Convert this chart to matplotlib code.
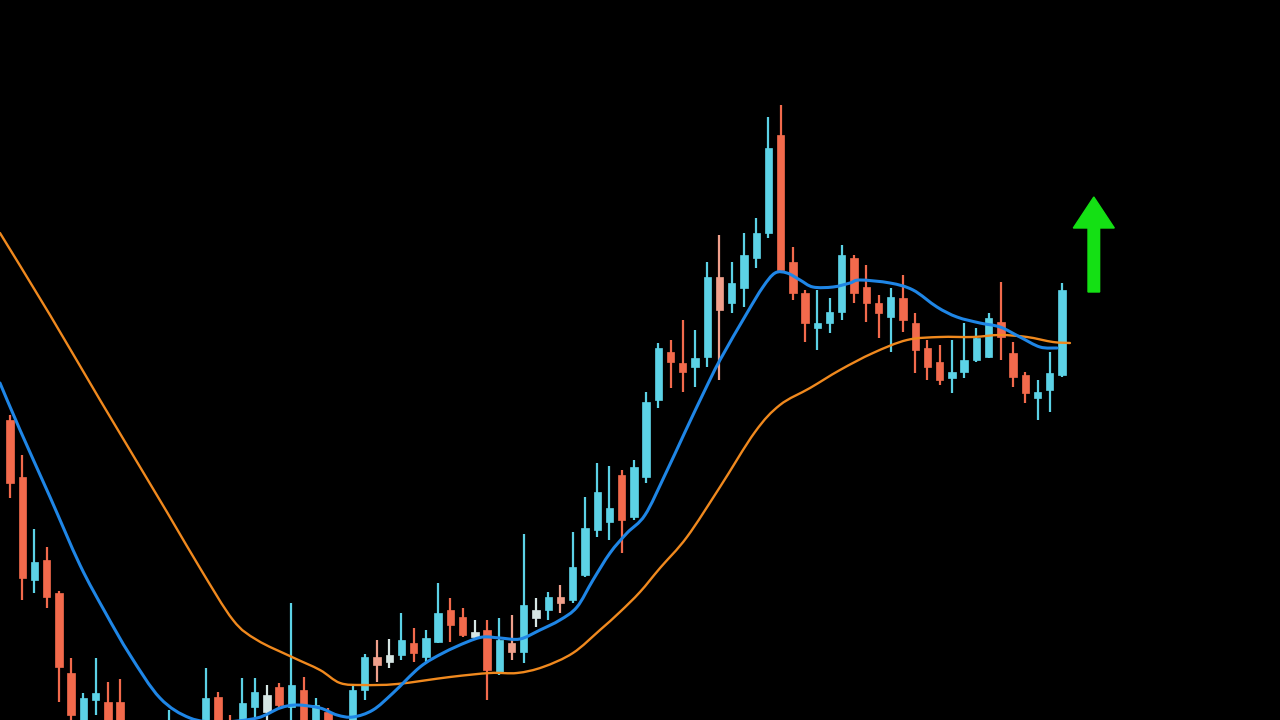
import matplotlib
matplotlib.use("Agg")
import matplotlib.pyplot as plt
from matplotlib.patches import FancyArrow, PathPatch
from matplotlib.path import Path
import numpy as np

# ---- candle data (price units, one entry per session) ----
opens = [300, 243, 140, 160, 127, 47, -10, 20, 18, 18,
         -10, -20, -40, -30, -15, -35, -5, 23, 0, -5,
         13, 8, 33, 13, 30, 0, 8, -25, 0, 30,
         63, 58, 65, 77, 63, 78, 110, 103, 83, 90,
         48, 77, 68, 102, 110, 123, 120, 145, 190, 198,
         245, 203, 243, 320, 368, 357, 353, 363, 443, 417,
         432, 462, 487, 585, 458, 427, 392, 397, 408, 462,
         433, 417, 403, 422, 397, 372, 358, 342, 348, 360,
         363, 398, 367, 345, 322, 330, 345]
highs = [305, 265, 191, 173, 129, 62, 27, 62, 38, 41,
         -5, -15, -10, 10, -5, -2, 52, 28, 5, 42,
         42, 35, 37, 117, 43, 22, 12, -5, 35, 66,
         80, 81, 107, 92, 90, 137, 122, 112, 100, 100,
         102, 105, 186, 122, 128, 135, 188, 223, 257, 254,
         250, 260, 328, 377, 380, 400, 390, 458, 485, 458,
         487, 502, 603, 615, 473, 430, 430, 422, 475, 465,
         455, 425, 432, 445, 407, 380, 375, 380, 397, 392,
         407, 438, 378, 348, 340, 368, 437]
lows = [222, 120, 127, 112, 18, -15, -20, 5, -25, -20,
        -40, -50, -50, -40, -45, -45, -15, -15, -25, -15,
        3, 0, 12, 0, -15, -10, -20, -35, -10, 20,
        38, 52, 60, 58, 58, 77, 78, 83, 80, 20,
        45, 60, 57, 93, 100, 107, 117, 143, 183, 180,
        167, 200, 237, 312, 332, 328, 333, 353, 340, 407,
        413, 452, 482, 448, 420, 378, 370, 387, 400, 417,
        398, 382, 368, 388, 347, 340, 335, 327, 342, 358,
        362, 360, 333, 317, 300, 308, 343]
closes = [237, 142, 158, 123, 53, 5, 22, 27, -10, -5,
          -30, -40, -25, -12, -35, -10, 22, -5, -15, 17,
          28, 25, 15, 35, -5, 15, -10, -10, 30, 63,
          55, 65, 80, 67, 82, 107, 95, 85, 88, 50,
          80, 68, 115, 110, 123, 117, 153, 192, 228, 212,
          200, 253, 318, 372, 358, 348, 362, 443, 410, 437,
          465, 487, 572, 450, 427, 397, 397, 408, 465, 427,
          417, 407, 423, 400, 370, 353, 340, 348, 360, 382,
          402, 383, 343, 327, 328, 347, 430]

# ---- moving-average lines (session position, price) ----
ma_fast_pos = [-0.82, 0.82, 3.27, 5.72, 7.77, 9.81, 12.26, 14.71, 17.17,
               20.19, 22.07, 23.46, 25.34, 26.73, 28.04, 29.67,
               31.31, 33.52, 35.40, 37.36, 38.67, 40.06, 41.69, 43.33, 44.96, 46.35,
               47.66, 49.05, 50.44, 51.91, 53.54, 55.18, 56.81, 58.04, 60.25, 61.55,
               62.54, 63.52, 64.58, 65.64, 67.28, 68.67, 69.48, 71.94, 73.82, 75.78,
               77.41, 79.29, 80.93, 82.56, 84.20, 85.59]
ma_fast_val = [337, 290, 223, 155, 108, 65, 22, 2, -2,
               2, 12, 15, 12, 5, 3, 10,
               27, 53, 67, 78, 83, 82, 81, 90, 100, 113,
               140, 167, 187, 205, 245, 288, 330, 360, 407, 433,
               447, 447, 440, 433, 433, 437, 440, 437, 430, 413,
               403, 397, 393, 383, 373, 372]
ma_slow_pos = [-0.82, 3.27, 7.36, 12.83, 15.53, 18.23, 20.19, 23.05, 25.34,
               26.98, 28.86, 31.64, 35.97, 39.24, 41.45, 43.57, 46.02, 48.23, 49.86,
               51.50, 53.14, 55.34, 58.04, 60.90, 62.94, 65.40, 67.85, 70.55, 73.33,
               76.02, 78.72, 80.93, 83.14, 85.26, 86.65]
ma_slow_val = [487, 405, 320, 208, 152, 100, 80, 63, 50,
               37, 35, 36, 43, 47, 47, 53, 67, 90, 108,
               128, 152, 183, 233, 288, 315, 332, 350, 367, 380,
               383, 383, 385, 383, 378, 377]


def smooth_path(xs, ys):
    """Catmull-Rom curve through the read points, as cubic Bezier segments."""
    p = np.column_stack([xs, ys]).astype(float)
    verts = [p[0]]
    codes = [Path.MOVETO]
    n = len(p)
    for i in range(n - 1):
        p0 = p[i - 1] if i > 0 else p[i]
        p1, p2 = p[i], p[i + 1]
        p3 = p[i + 2] if i + 2 < n else p[i + 1]
        c1 = p1 + (p2 - p0) / 6.0
        c2 = p2 - (p3 - p1) / 6.0
        verts += [c1, c2, p2]
        codes += [Path.CURVE4] * 3
    return Path(verts, codes)


# ---- figure ----
fig = plt.figure(figsize=(12.8, 7.2), dpi=100, facecolor="black")
ax = fig.add_axes([0, 0, 1, 1])
ax.set_facecolor("black")
ax.set_xlim(-0.8175, 103.82)
ax.set_ylim(0, 720)
ax.axis("off")

UP = "#5cd2e6"
DOWN = "#f26a4c"
PALE_UP = "#d6e6e4"
PALE_DOWN = "#f0a08c"
pale = {21, 30, 31, 38, 41, 43, 45, 58}

o = np.array(opens, float)
h = np.array(highs, float)
l = np.array(lows, float)
c = np.array(closes, float)
idx = np.arange(len(o))
up = c >= o
cols = []
for i in idx:
    if i in pale:
        cols.append(PALE_UP if up[i] else PALE_DOWN)
    else:
        cols.append(UP if up[i] else DOWN)

ax.vlines(idx, l, h, colors=cols, linewidth=1.6, zorder=2)
ax.bar(idx, np.abs(c - o), bottom=np.minimum(o, c), width=0.6,
       color=cols, edgecolor=cols, linewidth=0.5, zorder=3)

ax.add_patch(PathPatch(smooth_path(ma_slow_pos, ma_slow_val), facecolor="none",
                       edgecolor="#f0891e", linewidth=1.7, zorder=4,
                       capstyle="round", joinstyle="round"))
ax.add_patch(PathPatch(smooth_path(ma_fast_pos, ma_fast_val), facecolor="none",
                       edgecolor="#1f86e6", linewidth=2.2, zorder=5,
                       capstyle="round", joinstyle="round"))

# green up arrow
arrow = FancyArrow(88.6, 428, 0, 95, width=0.95, head_width=3.35,
                   head_length=31, length_includes_head=True,
                   color="#14e014", zorder=6)
ax.add_patch(arrow)

fig.savefig("out.png", dpi=100, facecolor="black")
